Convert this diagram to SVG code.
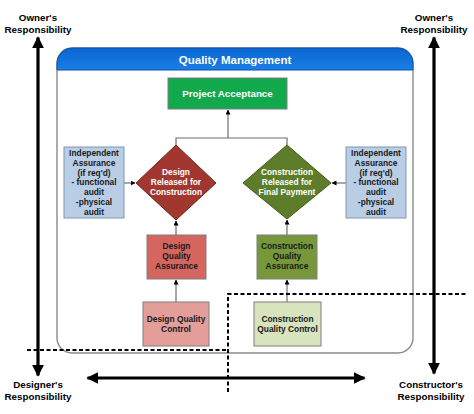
<svg xmlns="http://www.w3.org/2000/svg" width="474" height="414" viewBox="0 0 474 414">
<defs>
<style>
.lbl{font-family:"Liberation Sans",Arial,sans-serif;font-weight:bold;text-anchor:middle}
.big{font-size:9.8px;fill:#000}
.node{font-size:8.4px}
.wt{fill:#fff}
.dk{fill:#1a1a1a}
.box{stroke:#7f7f7f;stroke-width:1}
.con{stroke:#6f6f6f;stroke-width:1.2;fill:none}
.thick{stroke:#000;stroke-width:3.2;fill:none}
.dash{stroke:#000;stroke-width:2;stroke-dasharray:4 2.5;fill:none}
</style>
<marker id="sa" viewBox="0 0 10 10" refX="9" refY="5" markerWidth="5" markerHeight="5" orient="auto" markerUnits="userSpaceOnUse"><path d="M0,0 L10,5 L0,10 z" fill="#000"/></marker>
<marker id="ba" viewBox="0 0 10 10" refX="9" refY="5" markerWidth="12" markerHeight="12" orient="auto-start-reverse" markerUnits="userSpaceOnUse"><path d="M0,0 L10,5 L0,10 z" fill="#000"/></marker>
<linearGradient id="hg" x1="0" y1="0" x2="0" y2="1"><stop offset="0" stop-color="#0a66d0"/><stop offset="1" stop-color="#1a7fe6"/></linearGradient>
</defs>

<g id="container">
<rect x="57" y="48" width="356" height="305" rx="15" ry="15" fill="#fff" stroke="#8a8a8a" stroke-width="1.4"/>
<path d="M57,70 L57,63 A15,15 0 0 1 72,48 L398,48 A15,15 0 0 1 413,63 L413,70 Z" fill="url(#hg)" stroke="#0a55b0" stroke-width="1"/>
<text class="lbl wt" x="235" y="64" font-size="11.5">Quality Management</text>
</g>

<g id="connectors">
<line class="con" x1="228" y1="138" x2="228" y2="110" marker-end="url(#sa)"/>
<polyline class="con" points="176,145 176,138 287,138 287,145"/>
<line class="con" x1="124" y1="183" x2="135" y2="183" marker-end="url(#sa)"/>
<line class="con" x1="346" y1="183" x2="332" y2="183" marker-end="url(#sa)"/>
<line class="con" x1="176" y1="235" x2="176" y2="221" marker-end="url(#sa)"/>
<line class="con" x1="287" y1="235" x2="287" y2="220" marker-end="url(#sa)"/>
<line class="con" x1="176" y1="302" x2="176" y2="280" marker-end="url(#sa)"/>
<line class="con" x1="287" y1="302" x2="287" y2="280" marker-end="url(#sa)"/>
</g>

<g id="project-acceptance">
<rect class="box" x="168" y="78" width="119" height="31" fill="#12a84c"/>
<text class="lbl wt" x="227.5" y="97" font-size="9.8">Project Acceptance</text>
</g>

<g id="design-released">
<polygon points="176,145 216,183 176,220 136,183" fill="#a2372f" stroke="#6e2520" stroke-width="1"/>
<text class="lbl node wt" x="176" y="175">Design</text>
<text class="lbl node wt" x="176" y="185">Released for</text>
<text class="lbl node wt" x="176" y="195">Construction</text>
</g>

<g id="construction-released">
<polygon points="287,145 331,183 287,219 243,183" fill="#5d7d2b" stroke="#435c1d" stroke-width="1"/>
<text class="lbl node wt" x="287" y="175">Construction</text>
<text class="lbl node wt" x="287" y="185">Released for</text>
<text class="lbl node wt" x="287" y="195">Final Payment</text>
</g>

<g id="ia-left">
<rect x="64" y="147" width="60" height="71" fill="#b9cde5" stroke="#7f95b3" stroke-width="1"/>
<text class="lbl node dk" x="94" y="156">Independent</text>
<text class="lbl node dk" x="94" y="166">Assurance</text>
<text class="lbl node dk" x="94" y="175.5">(if req'd)</text>
<text class="lbl node dk" x="94" y="185">- functional</text>
<text class="lbl node dk" x="94" y="195">audit</text>
<text class="lbl node dk" x="94" y="205">-physical</text>
<text class="lbl node dk" x="94" y="214.5">audit</text>
</g>

<g id="ia-right">
<rect x="346" y="147" width="60" height="71" fill="#b9cde5" stroke="#7f95b3" stroke-width="1"/>
<text class="lbl node dk" x="376" y="156">Independent</text>
<text class="lbl node dk" x="376" y="166">Assurance</text>
<text class="lbl node dk" x="376" y="175.5">(if req'd)</text>
<text class="lbl node dk" x="376" y="185">- functional</text>
<text class="lbl node dk" x="376" y="195">audit</text>
<text class="lbl node dk" x="376" y="205">-physical</text>
<text class="lbl node dk" x="376" y="214.5">audit</text>
</g>

<g id="design-qa">
<rect class="box" x="147" y="235" width="59" height="44" fill="#d5665f"/>
<text class="lbl node dk" x="176.5" y="249">Design</text>
<text class="lbl node dk" x="176.5" y="259">Quality</text>
<text class="lbl node dk" x="176.5" y="269">Assurance</text>
</g>

<g id="construction-qa">
<rect class="box" x="257" y="235" width="60" height="44" fill="#76983a"/>
<text class="lbl node dk" x="287" y="249">Construction</text>
<text class="lbl node dk" x="287" y="259">Quality</text>
<text class="lbl node dk" x="287" y="269">Assurance</text>
</g>

<g id="design-qc">
<rect class="box" x="143" y="302" width="66" height="44" fill="#e39e9a"/>
<text class="lbl node dk" x="176" y="322">Design Quality</text>
<text class="lbl node dk" x="176" y="332">Control</text>
</g>

<g id="construction-qc">
<rect class="box" x="254" y="302" width="67" height="44" fill="#d7e4bd"/>
<text class="lbl node dk" x="287.5" y="322">Construction</text>
<text class="lbl node dk" x="287.5" y="332">Quality Control</text>
</g>

<g id="responsibility-axes">
<line class="thick" x1="38" y1="37.5" x2="38" y2="375.5" marker-start="url(#ba)" marker-end="url(#ba)"/>
<line class="thick" x1="434" y1="37.5" x2="434" y2="373.5" marker-start="url(#ba)" marker-end="url(#ba)"/>
<line class="thick" x1="87.5" y1="378" x2="364.5" y2="378" marker-start="url(#ba)" marker-end="url(#ba)"/>
<polyline class="dash" points="27,350 228,350"/>
<polyline class="dash" points="228,392 228,294 466,294"/>
</g>

<g id="labels">
<text class="lbl big" x="38" y="21">Owner's</text>
<text class="lbl big" x="38" y="33">Responsibility</text>
<text class="lbl big" x="434" y="21">Owner's</text>
<text class="lbl big" x="434" y="33">Responsibility</text>
<text class="lbl big" x="38" y="388">Designer's</text>
<text class="lbl big" x="38" y="400">Responsibility</text>
<text class="lbl big" x="431" y="388">Constructor's</text>
<text class="lbl big" x="431" y="400">Responsibility</text>
</g>
</svg>
